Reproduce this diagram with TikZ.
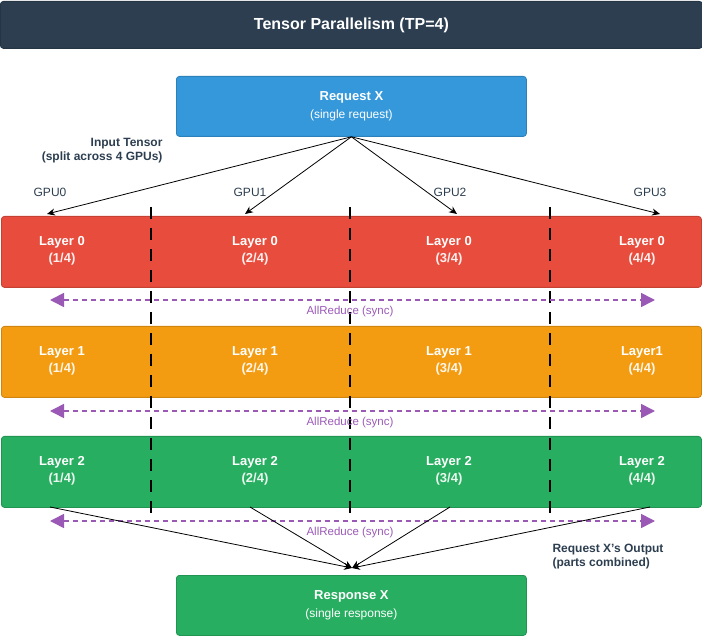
\documentclass[tikz,border=0pt]{standalone}
\usepackage{fontspec}
\setmainfont{Liberation Sans}
\usetikzlibrary{arrows.meta}
\definecolor{dark}{HTML}{2C3E50}
\definecolor{blu}{HTML}{3498DB}
\definecolor{red0}{HTML}{E74C3C}
\definecolor{org}{HTML}{F39C12}
\definecolor{grn}{HTML}{27AE60}
\definecolor{pur}{HTML}{9B59B6}
\begin{document}
\begin{tikzpicture}[x=1pt,y=-1pt,
 box/.style={draw=#1!85!black,fill=#1,rounded corners=3pt,line width=0.8pt},
 lay/.style={text=white,font=\bfseries\fontsize{13}{15}\selectfont,align=center},
 gpu/.style={text=dark,font=\fontsize{12}{14}\selectfont},
 sync/.style={pur,line width=1.6pt,dash pattern=on 5pt off 4pt,{Triangle[length=14pt,width=14pt]}-{Triangle[length=14pt,width=14pt]}},
 synclbl/.style={text=pur,font=\fontsize{11.5}{13}\selectfont},
 note/.style={text=dark,font=\bfseries\fontsize{12}{14}\selectfont,align=left},
 arr/.style={-{Stealth[length=8pt,width=7pt]},line width=0.8pt}]
\useasboundingbox (0,0) rectangle (702,636);
\node[box=dark,minimum width=702pt,minimum height=47pt,anchor=north west,text=white,font=\bfseries\fontsize{16}{18}\selectfont] (title) at (0,1) {Tensor Parallelism (TP=4)};
\node[box=blu,minimum width=350pt,minimum height=60pt,anchor=north west,lay] (req) at (176,76) {Request X\\[3pt]{\mdseries\fontsize{12}{14}\selectfont (single request)}};
\node[box=red0,minimum width=700pt,minimum height=71pt,anchor=north west] (r0) at (1,216) {};
\node[box=org,minimum width=700pt,minimum height=71pt,anchor=north west] (r1) at (1,326) {};
\node[box=grn,minimum width=700pt,minimum height=71pt,anchor=north west] (r2) at (1,436) {};
\node[box=grn,minimum width=350pt,minimum height=60pt,anchor=north west,lay] (resp) at (176,575) {Response X\\[3pt]{\mdseries\fontsize{12}{14}\selectfont (single response)}};
\foreach \x/\i in {62/0,255/1,449/2,642/3}{
 \node[lay] (a\i) at (\x,251) {Layer 0\\[2pt]{\color{white!90!red0}(\the\numexpr\i+1\relax/4)}};
 \node[lay] (c\i) at (\x,471) {Layer 2\\[2pt]{\color{white!90!grn}(\the\numexpr\i+1\relax/4)}};
}
\foreach \x/\i in {62/0,255/1,449/2}{
 \node[lay] (b\i) at (\x,361) {Layer 1\\[2pt]{\color{white!90!org}(\the\numexpr\i+1\relax/4)}};}
\node[lay] (b3) at (642,361) {Layer1\\[2pt]{\color{white!90!org}(4/4)}};
\foreach \x in {151,350,550}{
 \coordinate (t\x) at (\x,207); \coordinate (u\x) at (\x,513);
 \draw[line width=1.8pt,dash pattern=on 12pt off 9pt] (t\x) -- (u\x);}
\foreach \x/\i in {50/0,250/1,450/2,650/3}{\node[gpu] (g\i) at (\x,192) {GPU\i};}
\coordinate (s0) at (47,214); \coordinate (s1) at (245,214); \coordinate (s2) at (457,214); \coordinate (s3) at (660,214);
\foreach \i in {0,...,3}{\draw[arr] (req.south) -- (s\i);}
\node[note,align=right,anchor=east] (inp) at (166,151) {Input Tensor\\(split across 4 GPUs)};
\foreach \y/\n in {300/0,411/1,521/2}{
 \coordinate (l\n) at (50,\y); \coordinate (r\n) at (655,\y);
 \draw[sync] (l\n) -- (r\n);
 \node[synclbl] (sl\n) at (350,\y+12) {AllReduce (sync)};}
\coordinate (o0) at (50,507); \coordinate (o1) at (250,507); \coordinate (o2) at (450,507); \coordinate (o3) at (650,507);
\coordinate (m) at (352,568);
\foreach \i in {0,...,3}{\draw[arr] (o\i) -- (m);}
\node[note,anchor=west] (out) at (549,557) {Request X{\char"0027}s Output\\(parts combined)};
\end{tikzpicture}
\end{document}
